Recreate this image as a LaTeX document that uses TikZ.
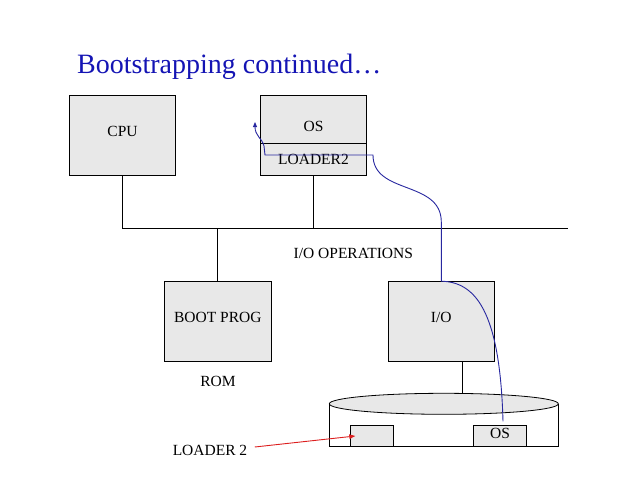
\documentclass[tikz,border=0pt]{standalone}
\usepackage{fontspec}
\setmainfont{Liberation Serif}
\usepackage{tikz}
\usetikzlibrary{positioning,shapes.geometric,arrows.meta}
\definecolor{boxgray}{HTML}{E8E8E8}
\definecolor{titleblue}{HTML}{1414B4}
\definecolor{pathblue}{HTML}{2828A0}
\definecolor{arrowred}{HTML}{DC1E1E}

\begin{document}
\begin{tikzpicture}[x=1pt,y=-1pt,
    membox/.style={draw,fill=boxgray,line width=0.8pt,outer sep=0pt,minimum width=106.5pt,minimum height=80pt,text depth=8pt,font=\fontsize{15.5}{18}\selectfont},
    diskbox/.style={draw,fill=boxgray,line width=0.8pt,outer sep=0pt,inner sep=0pt,minimum height=21.4pt,text depth=6pt,font=\fontsize{15.5}{18}\selectfont},
    txtstyle/.style={font=\fontsize{15.5}{18}\selectfont},
    wire/.style={line width=0.8pt}]

    \useasboundingbox (0,0) rectangle (638,479);

    \node[anchor=base west,inner sep=0pt,text=titleblue,font=\fontsize{28}{32}\selectfont] (title) at (77,73.3) {Bootstrapping continued…};

    \node[membox] (cpu) at (122.5,135.3) {CPU};
    \node[membox,minimum height=48pt,text depth=0pt,text height=25.7pt] (osmem) at (313.5,119) {OS};
    \node[membox,minimum height=32pt,text depth=0pt,below=0pt of osmem] (ldrmem) {LOADER2};
    \node[membox] (boot) at (217.8,321.3) {BOOT PROG};
    \node[membox] (iobox) at (441.3,321.2) {I/O};

    \node[txtstyle] (busname) at (353.3,253) {I/O OPERATIONS};
    \node[txtstyle] (rom) at (218,381) {ROM};

    \node[shape=ellipse,draw,fill=boxgray,line width=0.8pt,inner sep=0pt,minimum width=229pt,minimum height=21pt] (platter) at (443.8,403.8) {};
    \draw[wire] (platter.west) -- ++(0,43) -| (platter.east);
    \node[diskbox,minimum width=43pt] (ldrdisk) at (371.8,436) {};
    \node[diskbox,minimum width=53.4pt] (osdisk) at (500,436) {OS};
    \node[txtstyle] (ldrlabel) at (210,450) {LOADER 2};

    \coordinate (busL) at (122.3,228.3);
    \coordinate (busR) at (568.3,228.3);
    \draw[wire] (busL) -- (busR);
    \draw[wire] (cpu.south) -- (cpu.south |- busL);
    \draw[wire] (ldrmem.south) -- (ldrmem.south |- busL);
    \draw[wire] (boot.north) -- (boot.north |- busL);
    \draw[wire] ([xshift=21pt]iobox.south) -- ([xshift=21pt]iobox.south |- platter.north);

    \coordinate (loadtip) at (255,122);
    \draw[pathblue,line width=0.9pt,-{Triangle[length=5pt,width=4pt]}] ([xshift=3pt,yshift=4pt]osdisk.north) .. controls (500,310) and (475,282) .. (iobox.north) -- (441.3,222) .. controls (441.3,180) and (373,195) .. (373,155) -- (265,155) -- (264,146) .. controls (262,138) and (255,136) .. (loadtip);

    \draw[arrowred,line width=0.9pt,-{Triangle[length=6pt,width=4.5pt]}] ([xshift=4pt,yshift=3pt]ldrlabel.east) -- ([xshift=5pt]ldrdisk.west);

\end{tikzpicture}
\end{document}
